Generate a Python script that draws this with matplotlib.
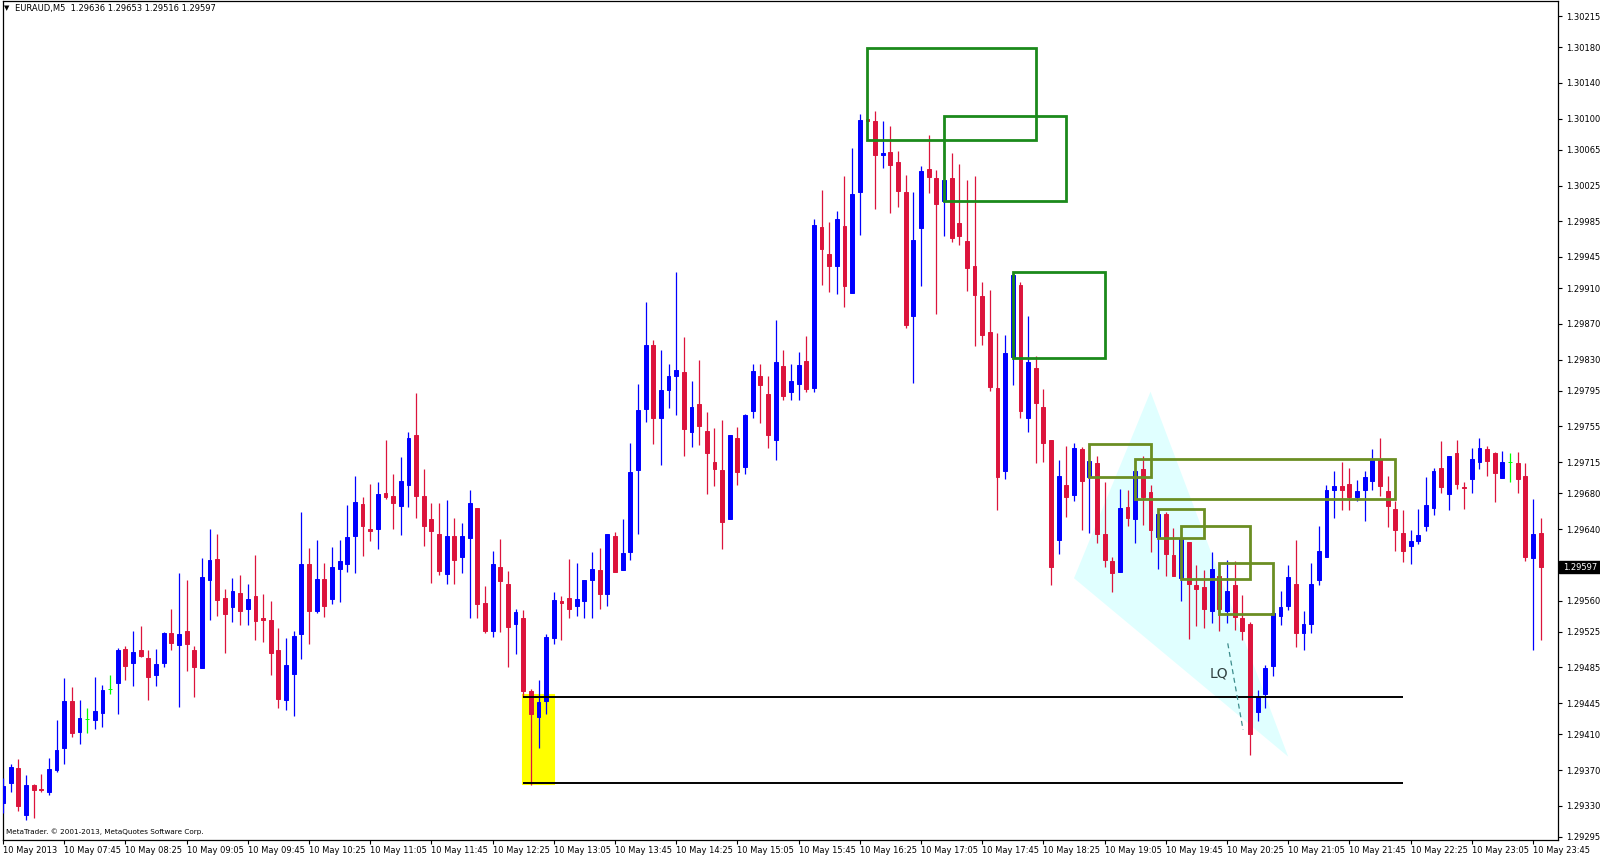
import matplotlib
matplotlib.use("Agg")
import matplotlib.pyplot as plt
import numpy as np
from matplotlib.patches import Rectangle, Polygon

# ---------------- data (EURAUD M5, 10 May 2013, bars from 07:05) ----------------
opens = [1.29333, 1.29355, 1.29372, 1.29320, 1.29353, 1.29349, 1.29345, 1.29370, 1.29395, 1.29447,
         1.29413, 1.29427, 1.29426, 1.29434, 1.29461, 1.29468, 1.29506, 1.29490, 1.29504, 1.29496,
         1.29477, 1.29490, 1.29524, 1.29510, 1.29526, 1.29505, 1.29484, 1.29583, 1.29606, 1.29563,
         1.29553, 1.29568, 1.29550, 1.29565, 1.29540, 1.29538, 1.29505, 1.29448, 1.29478, 1.29522,
         1.29601, 1.29548, 1.29584, 1.29562, 1.29595, 1.29601, 1.29632, 1.29668, 1.29640, 1.29640,
         1.29681, 1.29677, 1.29666, 1.29690, 1.29746, 1.29677, 1.29651, 1.29634, 1.29590, 1.29632,
         1.29609, 1.29630, 1.29664, 1.29557, 1.29526, 1.29597, 1.29579, 1.29534, 1.29540, 1.29459,
         1.29430, 1.29447, 1.29518, 1.29559, 1.29563, 1.29554, 1.29560, 1.29583, 1.29594, 1.29567,
         1.29632, 1.29594, 1.29614, 1.29706, 1.29775, 1.29846, 1.29765, 1.29796, 1.29812, 1.29816,
         1.29749, 1.29780, 1.29750, 1.29715, 1.29706, 1.29651, 1.29742, 1.29710, 1.29772, 1.29812,
         1.29791, 1.29740, 1.29823, 1.29794, 1.29803, 1.29828, 1.29798, 1.29978, 1.29948, 1.29935,
         1.29980, 1.29905, 1.30018, 1.30100, 1.30097, 1.30059, 1.30063, 1.30051, 1.30018, 1.29879,
         1.29977, 1.30044, 1.30034, 1.30008, 1.30033, 1.29983, 1.29963, 1.29935, 1.29901, 1.29861,
         1.29798, 1.29705, 1.29833, 1.29914, 1.29765, 1.29820, 1.29777, 1.29740, 1.29628, 1.29690,
         1.29678, 1.29730, 1.29698, 1.29714, 1.29634, 1.29604, 1.29592, 1.29665, 1.29651, 1.29707,
         1.29682, 1.29631, 1.29657, 1.29611, 1.29585, 1.29626, 1.29577, 1.29575, 1.29548, 1.29587,
         1.29548, 1.29577, 1.29540, 1.29534, 1.29435, 1.29455, 1.29487, 1.29543, 1.29554, 1.29579,
         1.29524, 1.29534, 1.29583, 1.29609, 1.29684, 1.29688, 1.29691, 1.29676, 1.29684, 1.29694,
         1.29718, 1.29683, 1.29663, 1.29636, 1.29621, 1.29627, 1.29643, 1.29664, 1.29708, 1.29679,
         1.29725, 1.29687, 1.29696, 1.29715, 1.29730, 1.29725, 1.29697, 1.29715, 1.29714, 1.29700,
         1.29608, 1.29636]
highs = [1.29361, 1.29377, 1.29382, 1.29365, 1.29354, 1.29366, 1.29384, 1.29426, 1.29473, 1.29463,
         1.29448, 1.29439, 1.29474, 1.29465, 1.29476, 1.29507, 1.29509, 1.29526, 1.29532, 1.29505,
         1.29506, 1.29525, 1.29550, 1.29591, 1.29583, 1.29509, 1.29608, 1.29640, 1.29635, 1.29573,
         1.29585, 1.29589, 1.29578, 1.29611, 1.29567, 1.29559, 1.29529, 1.29518, 1.29526, 1.29659,
         1.29619, 1.29628, 1.29602, 1.29620, 1.29628, 1.29667, 1.29699, 1.29676, 1.29691, 1.29693,
         1.29740, 1.29702, 1.29721, 1.29749, 1.29792, 1.29707, 1.29669, 1.29669, 1.29673, 1.29653,
         1.29647, 1.29684, 1.29664, 1.29576, 1.29615, 1.29629, 1.29593, 1.29551, 1.29549, 1.29461,
         1.29471, 1.29522, 1.29570, 1.29565, 1.29607, 1.29602, 1.29583, 1.29614, 1.29619, 1.29634,
         1.29637, 1.29651, 1.29737, 1.29803, 1.29895, 1.29852, 1.29841, 1.29825, 1.29928, 1.29855,
         1.29806, 1.29830, 1.29771, 1.29753, 1.29762, 1.29746, 1.29754, 1.29769, 1.29825, 1.29825,
         1.29812, 1.29874, 1.29841, 1.29825, 1.29838, 1.29856, 1.29988, 1.30020, 1.29984, 1.29997,
         1.30036, 1.30067, 1.30105, 1.30100, 1.30109, 1.30097, 1.30092, 1.30064, 1.30037, 1.30018,
         1.30047, 1.30082, 1.30042, 1.30031, 1.30062, 1.30049, 1.30031, 1.30036, 1.29917, 1.29908,
         1.29860, 1.29857, 1.29927, 1.29917, 1.29879, 1.29834, 1.29797, 1.29740, 1.29718, 1.29733,
         1.29736, 1.29732, 1.29717, 1.29722, 1.29693, 1.29609, 1.29685, 1.29684, 1.29706, 1.29722,
         1.29689, 1.29659, 1.29659, 1.29641, 1.29629, 1.29626, 1.29600, 1.29594, 1.29614, 1.29591,
         1.29605, 1.29604, 1.29566, 1.29536, 1.29460, 1.29488, 1.29548, 1.29571, 1.29600, 1.29628,
         1.29548, 1.29602, 1.29644, 1.29690, 1.29705, 1.29715, 1.29708, 1.29695, 1.29705, 1.29730,
         1.29742, 1.29699, 1.29672, 1.29661, 1.29639, 1.29662, 1.29698, 1.29708, 1.29739, 1.29722,
         1.29740, 1.29693, 1.29731, 1.29742, 1.29733, 1.29726, 1.29727, 1.29725, 1.29726, 1.29714,
         1.29674, 1.29653]
lows = [1.29322, 1.29345, 1.29324, 1.29314, 1.29316, 1.29345, 1.29342, 1.29368, 1.29377, 1.29407,
        1.29399, 1.29411, 1.29416, 1.29418, 1.29455, 1.29433, 1.29471, 1.29464, 1.29497, 1.29449,
        1.29464, 1.29486, 1.29504, 1.29441, 1.29481, 1.29452, 1.29484, 1.29538, 1.29543, 1.29501,
        1.29536, 1.29533, 1.29533, 1.29516, 1.29514, 1.29477, 1.29439, 1.29437, 1.29431, 1.29495,
        1.29511, 1.29546, 1.29541, 1.29556, 1.29558, 1.29592, 1.29591, 1.29610, 1.29627, 1.29618,
        1.29674, 1.29640, 1.29633, 1.29665, 1.29653, 1.29621, 1.29580, 1.29589, 1.29579, 1.29578,
        1.29591, 1.29540, 1.29540, 1.29524, 1.29519, 1.29525, 1.29485, 1.29500, 1.29452, 1.29353,
        1.29395, 1.29433, 1.29511, 1.29516, 1.29540, 1.29543, 1.29540, 1.29540, 1.29550, 1.29554,
        1.29592, 1.29594, 1.29605, 1.29635, 1.29760, 1.29735, 1.29712, 1.29776, 1.29768, 1.29722,
        1.29732, 1.29734, 1.29679, 1.29688, 1.29618, 1.29651, 1.29689, 1.29702, 1.29765, 1.29759,
        1.29731, 1.29717, 1.29785, 1.29785, 1.29785, 1.29794, 1.29794, 1.29914, 1.29906, 1.29903,
        1.29889, 1.29905, 1.29970, 1.30096, 1.29999, 1.30045, 1.29994, 1.30001, 1.29865, 1.29804,
        1.29912, 1.30017, 1.29881, 1.29969, 1.29962, 1.29958, 1.29907, 1.29845, 1.29846, 1.29795,
        1.29661, 1.29696, 1.29802, 1.29764, 1.29749, 1.29714, 1.29715, 1.29577, 1.29612, 1.29654,
        1.29671, 1.29639, 1.29636, 1.29625, 1.29597, 1.29569, 1.29592, 1.29643, 1.29625, 1.29645,
        1.29614, 1.29595, 1.29587, 1.29587, 1.29560, 1.29517, 1.29532, 1.29529, 1.29535, 1.29526,
        1.29535, 1.29527, 1.29516, 1.29387, 1.29425, 1.29440, 1.29475, 1.29533, 1.29549, 1.29508,
        1.29505, 1.29524, 1.29577, 1.29609, 1.29653, 1.29661, 1.29661, 1.29671, 1.29649, 1.29684,
        1.29677, 1.29642, 1.29616, 1.29603, 1.29601, 1.29623, 1.29638, 1.29656, 1.29680, 1.29661,
        1.29685, 1.29662, 1.29680, 1.29707, 1.29700, 1.29670, 1.29697, 1.29693, 1.29681, 1.29604,
        1.29505, 1.29516]
closes = [1.29352, 1.29373, 1.29330, 1.29353, 1.29348, 1.29348, 1.29371, 1.29393, 1.29447, 1.29411,
          1.29428, 1.29427, 1.29436, 1.29460, 1.29461, 1.29505, 1.29487, 1.29502, 1.29498, 1.29474,
          1.29489, 1.29524, 1.29512, 1.29523, 1.29511, 1.29485, 1.29586, 1.29605, 1.29561, 1.29545,
          1.29571, 1.29548, 1.29562, 1.29537, 1.29538, 1.29501, 1.29450, 1.29488, 1.29520, 1.29601,
          1.29548, 1.29584, 1.29554, 1.29598, 1.29604, 1.29631, 1.29670, 1.29643, 1.29638, 1.29679,
          1.29676, 1.29669, 1.29694, 1.29742, 1.29677, 1.29643, 1.29638, 1.29593, 1.29632, 1.29605,
          1.29632, 1.29669, 1.29556, 1.29526, 1.29601, 1.29582, 1.29530, 1.29547, 1.29459, 1.29433,
          1.29446, 1.29519, 1.29561, 1.29557, 1.29550, 1.29562, 1.29583, 1.29595, 1.29567, 1.29634,
          1.29592, 1.29613, 1.29704, 1.29774, 1.29846, 1.29764, 1.29796, 1.29812, 1.29818, 1.29752,
          1.29777, 1.29755, 1.29725, 1.29707, 1.29648, 1.29746, 1.29704, 1.29768, 1.29817, 1.29801,
          1.29745, 1.29827, 1.29789, 1.29806, 1.29824, 1.29797, 1.29981, 1.29954, 1.29935, 1.29988,
          1.29912, 1.30016, 1.30098, 1.30097, 1.30059, 1.30062, 1.30048, 1.30019, 1.29869, 1.29964,
          1.30041, 1.30035, 1.30004, 1.30031, 1.29966, 1.29969, 1.29933, 1.29902, 1.29857, 1.29799,
          1.29698, 1.29837, 1.29925, 1.29772, 1.29827, 1.29781, 1.29736, 1.29598, 1.29700, 1.29676,
          1.29731, 1.29694, 1.29716, 1.29635, 1.29605, 1.29591, 1.29664, 1.29653, 1.29705, 1.29676,
          1.29639, 1.29657, 1.29612, 1.29587, 1.29629, 1.29579, 1.29573, 1.29551, 1.29595, 1.29550,
          1.29571, 1.29541, 1.29526, 1.29410, 1.29452, 1.29484, 1.29546, 1.29553, 1.29586, 1.29524,
          1.29534, 1.29578, 1.29615, 1.29684, 1.29688, 1.29684, 1.29676, 1.29683, 1.29698, 1.29718,
          1.29688, 1.29666, 1.29639, 1.29615, 1.29627, 1.29633, 1.29667, 1.29705, 1.29687, 1.29722,
          1.29691, 1.29686, 1.29719, 1.29731, 1.29716, 1.29703, 1.29715, 1.29715, 1.29696, 1.29609,
          1.29634, 1.29597]

time_labels = ["10 May 2013", "10 May 07:45", "10 May 08:25", "10 May 09:05", "10 May 09:45",
               "10 May 10:25", "10 May 11:05", "10 May 11:45", "10 May 12:25", "10 May 13:05",
               "10 May 13:45", "10 May 14:25", "10 May 15:05", "10 May 15:45", "10 May 16:25",
               "10 May 17:05", "10 May 17:45", "10 May 18:25", "10 May 19:05", "10 May 19:45",
               "10 May 20:25", "10 May 21:05", "10 May 21:45", "10 May 22:25", "10 May 23:05",
               "10 May 23:45"]
price_labels = ["1.30215", "1.30180", "1.30140", "1.30100", "1.30065", "1.30025", "1.29985",
                "1.29945", "1.29910", "1.29870", "1.29830", "1.29795", "1.29755", "1.29715",
                "1.29680", "1.29640", "1.29560", "1.29525", "1.29485", "1.29445", "1.29410",
                "1.29370", "1.29330", "1.29295"]
title = "EURAUD,M5  1.29636 1.29653 1.29516 1.29597"
last_price = 1.29597

# drawn objects: (bar_from, bar_to, price_low, price_high)
green_boxes = [(113, 135, 1.30076, 1.30179), (123, 139, 1.30008, 1.30103), (132, 144, 1.29832, 1.29928)]
olive_boxes = [(142, 150, 1.29698, 1.29735), (148, 182, 1.29674, 1.29719), (151, 157, 1.29630, 1.29662),
               (154, 163, 1.29584, 1.29644), (159, 166, 1.29545, 1.29602)]
yellow_box = (68, 72, 1.29354, 1.29454)
level_lines = [1.29452, 1.29355]
level_span = (68, 183)
triangle = [(150, 1.29794), (140, 1.29585), (168, 1.29385)]
lq_text = (158.9, 1.29478)
lq_line = [(160.1, 1.29512), (162.1, 1.29415)]

# ---------------- figure ----------------
W, H = 1600, 857
fig = plt.figure(figsize=(W / 100, H / 100), dpi=100)
fig.patch.set_facecolor("white")
L_px, R_px, T_px, B_px = 2.5, 1558, 1, 840
ax = fig.add_axes([L_px / W, 1 - B_px / H, (R_px - L_px) / W, (B_px - T_px) / H])
ax.set_facecolor("white")

PX_PER_BAR = 7.65
X0 = 3.0
ax.set_xlim((L_px - X0) / PX_PER_BAR, (R_px - X0) / PX_PER_BAR)
P_TOP, PX_PER_UNIT = 1.30215, 89239.0
ax.set_ylim(P_TOP - (B_px - 16) / PX_PER_UNIT, P_TOP - (T_px - 16) / PX_PER_UNIT)

BULL, BEAR, DOJI = "#0000FF", "#DC143C", "#00FF00"

# background objects
ax.add_patch(Polygon(triangle, closed=True, facecolor="#E0FFFF", edgecolor="none", zorder=1))
yb = yellow_box
ax.add_patch(Rectangle((yb[0], yb[2]), yb[1] - yb[0], yb[3] - yb[2], facecolor="#FFFF00",
                       edgecolor="#FFFF00", linewidth=1.5, zorder=1))

# candles
o = np.array(opens); h = np.array(highs); l = np.array(lows); c = np.array(closes)
x = np.arange(len(o))
cols = np.where(c > o, BULL, np.where(c < o, BEAR, DOJI))
ax.vlines(x, l, h, colors=cols, linewidth=0.9, zorder=3)
ax.bar(x, np.abs(c - o), bottom=np.minimum(o, c), width=0.5, color=cols, edgecolor=cols,
       linewidth=0.7, zorder=3)

# level lines
for lv in level_lines:
    ax.plot(level_span, [lv, lv], color="black", linewidth=1.4, zorder=4, solid_capstyle="butt")

# rectangles
for (b0, b1, p0, p1) in green_boxes:
    ax.add_patch(Rectangle((b0, p0), b1 - b0, p1 - p0, fill=False, edgecolor="#1B8A1B",
                           linewidth=2.0, zorder=5))
for (b0, b1, p0, p1) in olive_boxes:
    ax.add_patch(Rectangle((b0, p0), b1 - b0, p1 - p0, fill=False, edgecolor="#6B8E23",
                           linewidth=2.0, zorder=5))

# LQ annotation
ax.text(lq_text[0], lq_text[1], "LQ", fontsize=10, color="#2F3F3F", ha="center", va="center", zorder=6)
ax.plot([p[0] for p in lq_line], [p[1] for p in lq_line], color="#3C8C8C", linewidth=0.9,
        linestyle=(0, (4, 3)), zorder=6)

# axes styling
for s in ax.spines.values():
    s.set_color("black")
    s.set_linewidth(0.9)

ax.yaxis.tick_right()
ax.set_yticks([float(v) for v in price_labels])
ax.set_yticklabels(price_labels)
ax.tick_params(axis="y", direction="out", length=3, width=0.8, labelsize=6, pad=3, colors="black")

ax.set_xticks(np.arange(0, 8 * len(time_labels), 8))
ax.set_xticklabels(time_labels, ha="left")
ax.tick_params(axis="x", direction="out", length=3, width=0.8, labelsize=6, pad=1.5, colors="black")

# current price marker
ytr = ax.get_yaxis_transform()
box_h = 12 / PX_PER_UNIT
ax.add_patch(Rectangle((1.0005, last_price - box_h / 2), 42 / (R_px - L_px), box_h, transform=ytr,
                       facecolor="black", edgecolor="black", clip_on=False, zorder=10))
ax.text(1.0 + 5 / (R_px - L_px), last_price, "%.5f" % last_price, transform=ytr, color="white",
        fontsize=6, ha="left", va="center", zorder=11, clip_on=False)

# header and footer texts
fig.text(4 / W, 1 - 8 / H, "\u25BC", fontsize=5, ha="left", va="center", color="black")
fig.text(15 / W, 1 - 8 / H, title, fontsize=6, ha="left", va="center", color="black")
fig.text(6 / W, 1 - 832 / H, "MetaTrader. \u00A9 2001-2013, MetaQuotes Software Corp.", fontsize=5.2,
         ha="left", va="center", color="black")

fig.savefig("out.png", dpi=100, facecolor="white")
